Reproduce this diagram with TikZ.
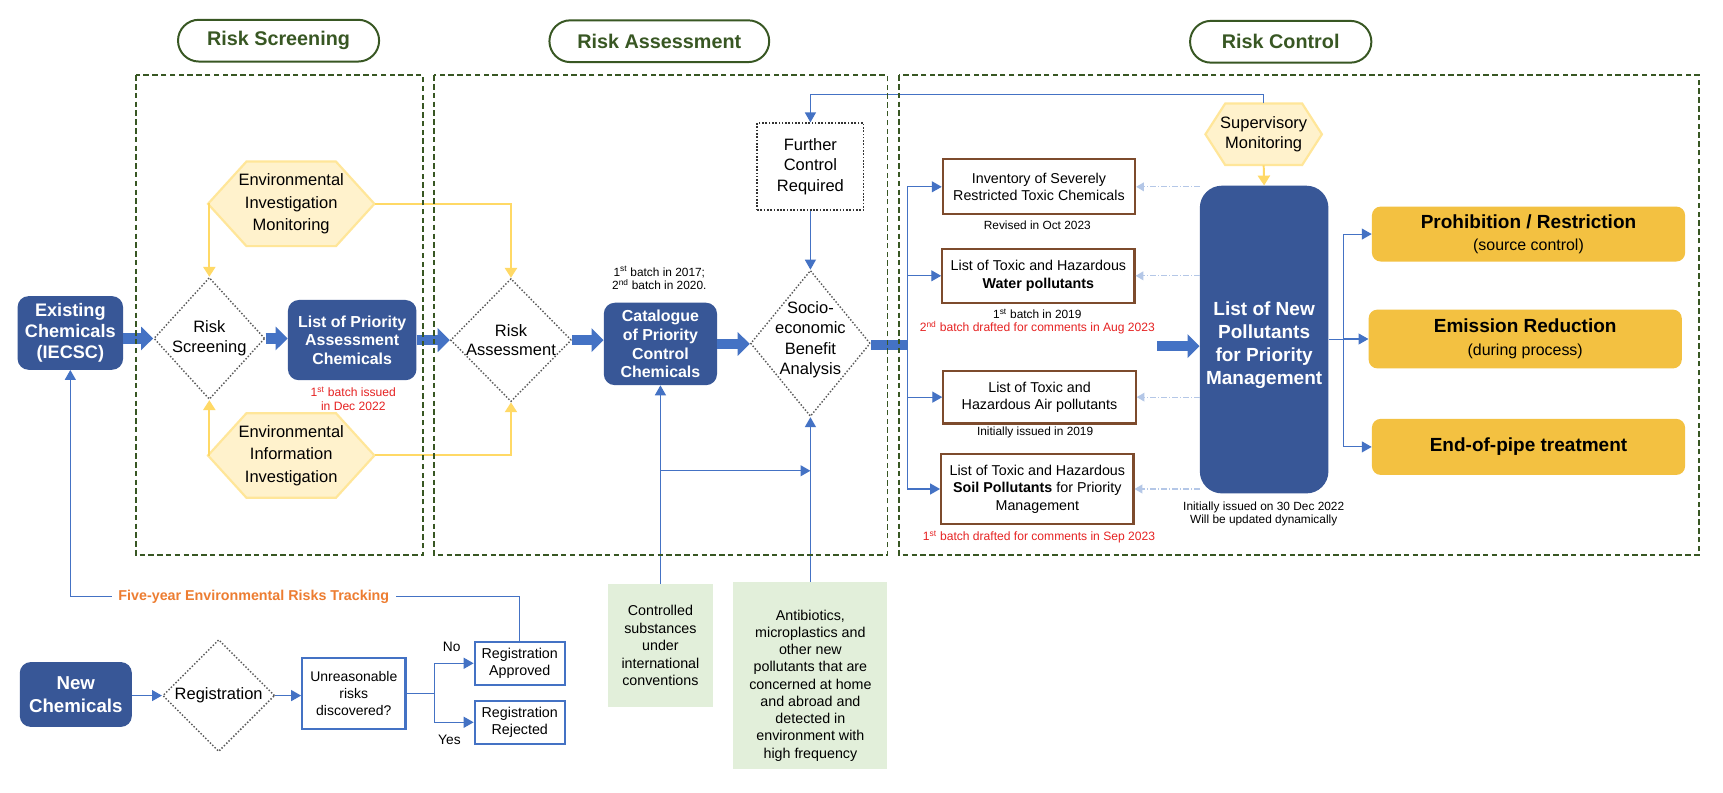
\documentclass[tikz,border=0pt]{standalone}
\usepackage{fontspec}
\setmainfont{Liberation Sans}
\usetikzlibrary{arrows.meta,shapes.geometric,calc}

\definecolor{dkblue}{RGB}{56,87,151}
\definecolor{arrowblue}{RGB}{68,114,196}
\definecolor{paleblue}{RGB}{180,199,231}
\definecolor{dkgreen}{RGB}{56,87,35}
\definecolor{hexfill}{RGB}{255,242,204}
\definecolor{hexline}{RGB}{255,230,153}
\definecolor{ylwline}{RGB}{255,217,102}
\definecolor{ylwbox}{RGB}{243,193,65}
\definecolor{greenfill}{RGB}{226,239,218}
\definecolor{listbrown}{RGB}{125,75,45}
\definecolor{notered}{RGB}{230,35,35}
\definecolor{trackorange}{RGB}{237,125,49}

\tikzset{
  pill/.style={draw=dkgreen, line width=1.8pt, rounded corners=19pt, minimum height=38pt, text=dkgreen, font=\fontsize{18}{22}\selectfont\bfseries},
  stageframe/.style={draw=dkgreen, line width=1.5pt, dash pattern=on 5pt off 3pt},
  bluebox/.style={rectangle, fill=dkblue, rounded corners=10pt, text=white, align=center},
  decision/.style={diamond, draw=black!65, line width=1.3pt, dash pattern=on 1.3pt off 1.7pt, align=center, inner sep=-12pt, font=\fontsize{15}{18}\selectfont},
  dotbox/.style={draw=black!80, line width=1.3pt, dash pattern=on 1.5pt off 1.5pt, align=center, font=\fontsize{15}{18.7}\selectfont},
  hexshape/.style={fill=hexfill, draw=hexline, line width=2pt},
  hextext/.style={align=center, inner sep=0pt, font=\fontsize{15}{20.5}\selectfont},
  listbox/.style={draw=listbrown, line width=2pt, minimum width=175pt, align=center, font=\fontsize{13}{15.9}\selectfont},
  actbox/.style={fill=ylwbox, rounded corners=8pt, minimum width=285pt, minimum height=51pt, align=center, font=\fontsize{14.5}{20.5}\selectfont},
  greenbox/.style={fill=greenfill, align=center, font=\fontsize{13}{16}\selectfont},
  regbox/.style={draw=arrowblue, line width=2pt, align=center, font=\fontsize{13}{15.8}\selectfont},
  notetext/.style={align=center, inner sep=0pt, font=\fontsize{10.8}{12}\selectfont},
  rednote/.style={notetext, text=notered, font=\fontsize{11}{12.2}\selectfont},
  lbl/.style={inner sep=0pt, font=\fontsize{12.5}{14}\selectfont},
  tracklabel/.style={fill=white, inner xsep=6pt, text=trackorange, font=\fontsize{13}{15}\selectfont\bfseries},
  flow/.style={draw=arrowblue, line width=1pt, -{Triangle[length=9pt,width=10pt]}},
  thinline/.style={draw=arrowblue, line width=1pt},
  yflow/.style={draw=ylwline, line width=1.8pt, -{Triangle[length=9pt,width=11pt]}},
  backflow/.style={draw=paleblue, line width=1pt, dash pattern=on 5pt off 2pt on 1pt off 2pt, -{Triangle[length=7pt,width=8pt]}},
  bigflow/.style={draw=arrowblue, line width=9.5pt, -{Triangle[length=11pt,width=21pt]}},
  bigbar/.style={draw=arrowblue, line width=9.5pt}
}

% hexagon: [node options]{name}{centre}{width}{height}{slant}{text}
\newcommand{\hexnode}[7][]{%
  \path[hexshape] ($(#3)+({-0.5*#4},0)$) -- ++(#6,{-0.5*#5}) -- ++({#4-2*#6},0)
    -- ++(#6,{0.5*#5}) -- ++({-#6},{0.5*#5}) -- ++({2*#6-#4},0) -- cycle;
  \node[hextext,minimum width=#4,minimum height=#5,#1] (#2) at (#3) {#7};
}

\begin{document}
\begin{tikzpicture}[x=1pt,y=1pt,yscale=-1,xscale=1]
\useasboundingbox (0,0) rectangle (1568,721);
\fill[white] (0,0) rectangle (1568,721);

% Stage headers
\node[pill, minimum width=183pt] (hscreen) at (253.5,37) {Risk Screening};
\node[pill, minimum width=200pt] (hassess) at (600,37.5) {Risk Assessment};
\node[pill, minimum width=165pt] (hcontrol) at (1165.5,38) {Risk Control};

%Risk screening
\node[bluebox, minimum width=96pt, minimum height=67pt, font=\fontsize{16.5}{19}\selectfont\bfseries] (exist) at (64,303) {Existing\\Chemicals\\(IECSC)};
\node[decision, minimum width=101pt, minimum height=111pt] (rs) at (190.5,308) {Risk\\Screening};
\node[bluebox, minimum width=117pt, minimum height=73pt, font=\fontsize{14.5}{17}\selectfont\bfseries] (lpa) at (320.5,309.5) {List of Priority\\Assessment\\Chemicals};
\node[rednote] (lpanote) at (321.5,362.6) {1\textsuperscript{st} batch issued\\in Dec 2022};
\hexnode{eim}{265,185.5}{151.4}{77}{35}{Environmental\\Investigation\\Monitoring}
\hexnode{eii}{265,414.5}{151.4}{77}{35}{Environmental\\Information\\Investigation}

%Risk assessment
\node[decision, minimum width=110pt, minimum height=112pt] (ra) at (465,309.5) {Risk\\Assessment};
\node[bluebox, minimum width=103pt, minimum height=75pt, font=\fontsize{14.5}{17.2}\selectfont\bfseries] (cat) at (601,313) {Catalogue\\of Priority\\Control\\Chemicals};
\node[notetext] (catnote) at (600,253) {1\textsuperscript{st} batch in 2017;\\2\textsuperscript{nd} batch in 2020.};
\node[dotbox, minimum width=97pt, minimum height=79pt] (fcr) at (737.5,151.5) {Further\\Control\\Required};
\node[decision, minimum width=109pt, minimum height=133pt, font=\fontsize{15}{18.5}\selectfont] (socio) at (737.5,312.5) {Socio-\\economic\\Benefit\\Analysis\rule[-10pt]{0pt}{1pt}};
\node[greenbox, minimum width=95pt, minimum height=112pt] (ctrl) at (601,587.5) {Controlled\\substances\\under\\international\\conventions};
\node[greenbox, minimum width=140pt, minimum height=170pt, font=\fontsize{13}{15.7}\selectfont] (anti) at (737.5,615) {\rule{0pt}{27pt}Antibiotics,\\microplastics and\\other new\\pollutants that are\\concerned at home\\and abroad and\\detected in\\environment with\\high frequency};

%Risk control
\node[listbox, minimum height=50pt] (inv) at (945.5,170) {Inventory of Severely\\Restricted Toxic Chemicals};
\node[notetext] (invnote) at (944,205.4) {Revised in Oct 2023};
\node[listbox, minimum height=49pt] (water) at (945,251) {List of Toxic and Hazardous\\\textbf{Water pollutants}};
\node[notetext] (waternote) at (944,285.4) {1\textsuperscript{st} batch in 2019};
\node[rednote] (waterred) at (944,298.4) {2\textsuperscript{nd} batch drafted for comments in Aug 2023};
\node[listbox, minimum height=48pt] (air) at (946,361.4) {List of Toxic and\\Hazardous Air pollutants};
\node[notetext] (airnote) at (942,393.2) {Initially issued in 2019};
\node[listbox, minimum height=63pt] (soil) at (944,445) {List of Toxic and Hazardous\\\textbf{Soil Pollutants} for Priority\\Management};
\node[rednote] (soilred) at (945.5,488.5) {1\textsuperscript{st} batch drafted for comments in Sep 2023};
\node[bluebox, rounded corners=20pt, minimum width=117pt, minimum height=280pt, font=\fontsize{17.3}{21}\selectfont\bfseries] (lnp) at (1150.4,309) {\rule{0pt}{23pt}List of New\\Pollutants\\for Priority\\Management};
\node[notetext] (lnpnote) at (1150,468) {Initially issued on 30 Dec 2022\\Will be updated dynamically};
\hexnode[font=\fontsize{15}{17.8}\selectfont]{sup}{1150,122.2}{106}{56}{18}{Supervisory\\Monitoring}
\node[actbox, minimum height=50pt] (pro) at (1391,213) {{\fontsize{17.3}{20.5}\selectfont\bfseries Prohibition / Restriction}\\(source control)};
\node[actbox, minimum height=53.5pt] (emi) at (1388,308.5) {{\fontsize{17.3}{20.5}\selectfont\bfseries Emission Reduction}\\(during process)};
\node[actbox, font=\fontsize{17.3}{20.5}\selectfont\bfseries] (eop) at (1391,406.7) {End-of-pipe treatment};

%New chemicals
\node[bluebox, minimum width=102pt, minimum height=59pt, font=\fontsize{17}{20.6}\selectfont\bfseries] (newchem) at (69,632) {New\\Chemicals};
\node[decision, minimum width=102pt, minimum height=102pt] (reg) at (199,633) {Registration};
\node[regbox, minimum width=94pt, minimum height=65pt, font=\fontsize{12.7}{15.2}\selectfont] (unr) at (322,631) {Unreasonable\\risks\\discovered?};
\node[regbox, minimum width=82pt, minimum height=39pt] (appr) at (473,603.6) {Registration\\Approved};
\node[regbox, minimum width=82pt, minimum height=39pt] (rej) at (473,657.3) {Registration\\Rejected};
\node[lbl] (nolbl) at (411,589) {No};
\node[lbl] (yeslbl) at (409,673.4) {Yes};

% Connectors
\draw[yflow] (eim.west) -| (rs.north);
\draw[yflow] (eim.east) -| (ra.north);
\draw[yflow] (eii.west) -| (rs.south);
\draw[yflow] (eii.east) -| (ra.south);
\draw[bigflow] (exist.east |- rs.west) -- (rs.west);
\draw[bigflow] (rs.east) -- (rs.east -| lpa.west);
\draw[bigflow] (lpa.east) -- (lpa.east -| ra.west);
\draw[bigflow] (ra.east) -- (ra.east -| cat.west);
\draw[bigflow] (cat.east) -- (cat.east -| socio.west);
\coordinate (lj) at (826,314);
\draw[bigbar] (socio.east |- lj) -- (lj);
\draw[flow] (lj) |- (inv.west);
\draw[flow] (lj) |- (water.west);
\draw[flow] (lj) |- (air.west);
\draw[flow] (lj) |- (soil.west);
\draw[flow] (fcr.south) -- (socio.north);
\draw[flow] (ctrl.north) -- (cat.south);
\coordinate (cbr) at (601,428.4);
\draw[flow] (cbr) -- (cbr -| anti.north);
\draw[flow] (anti.north) -- (socio.south);
\coordinate (lnpin) at (1053,315);
\draw[bigflow] (lnpin) -- (lnpin -| lnp.west);
\draw[backflow] (lnp.west |- inv.east) -- (inv.east);
\draw[backflow] (lnp.west |- water.east) -- (water.east);
\draw[backflow] (lnp.west |- air.east) -- (air.east);
\draw[backflow] (lnp.west |- soil.east) -- (soil.east);
\draw[yflow] (sup.south) -- (lnp.north);
\coordinate (fb) at (1150,86);
\draw[flow] (sup.north) -- (fb) -| (fcr.north);
\coordinate (rj) at (1222.7,309);
\draw[thinline] (lnp.east |- rj) -- (rj);
\draw[flow] (rj) |- (pro.west);
\draw[flow] (rj) |- (emi.west);
\draw[flow] (rj) |- (eop.west);

\draw[flow] (newchem.east |- reg.west) -- (reg.west);
\draw[flow] (reg.east) -- (reg.east -| unr.west);
\coordinate (split) at (395.3,631);
\draw[thinline] (unr.east) -- (split);
\draw[flow] (split) |- (appr.west);
\draw[flow] (split) |- (rej.west);
\coordinate (trk) at (64,543);
\draw[flow] (appr.north) |- (trk) -- (exist.south);
\node[tracklabel] (track) at (231,543) {Five-year Environmental Risks Tracking};

% Stage frames
\draw[stageframe] (123.5,68.5) rectangle (385,505);
\draw[stageframe] (395,68.5) rectangle (807.5,505);
\draw[stageframe] (818,68.5) rectangle (1546,505);

\end{tikzpicture}
\end{document}
